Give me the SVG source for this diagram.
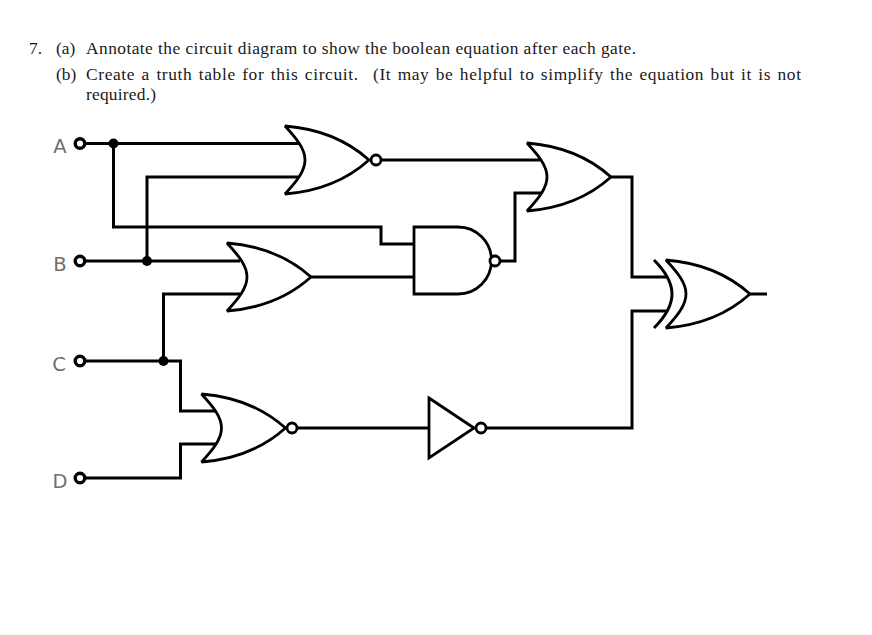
<svg xmlns="http://www.w3.org/2000/svg" width="872" height="635" viewBox="0 0 872 635">
<style>
.t{font-family:"Liberation Serif","Times New Roman",serif;font-size:17.4px;fill:#1a1a1a}
.l{font-family:"DejaVu Sans",sans-serif;font-size:19.500px;fill:#707070;text-anchor:middle}
.w{fill:none;stroke:#000;stroke-width:3;stroke-linejoin:miter}
.g{fill:#fff;stroke:#000;stroke-width:2.8;stroke-linejoin:bevel}
.b{fill:#fff;stroke:#000;stroke-width:2.8}
.d{fill:#000}
.p{fill:#fff;stroke:#000;stroke-width:3.4}
</style>
<defs>
<path id="or" d="M0 0C38 3 64 16 84 34C64 52 38 65 0 68C12 55 20 45 20 34C20 23 12 13 0 0Z"/>
</defs>
<g id="question">
<text class="t" x="29" y="54">7.</text>
<text class="t" x="56" y="54">(a)</text>
<text class="t" x="86" y="54" textLength="550" lengthAdjust="spacing">Annotate the circuit diagram to show the boolean equation after each gate.</text>
<text class="t" x="56" y="80">(b)</text>
<text class="t" x="86" y="80" textLength="272" lengthAdjust="spacing" word-spacing="1.500">Create a truth table for this circuit.</text>
<text class="t" x="373" y="80" textLength="428" lengthAdjust="spacing" word-spacing="1.500">(It may be helpful to simplify the equation but it is not</text>
<text class="t" x="86" y="100" textLength="70" lengthAdjust="spacing">required.)</text>
</g>
<g id="connectors">
<path class="w" d="M85 143.5H300"/>
<path class="w" d="M113.500 143.500V227H381V244H414"/>
<path class="w" d="M85 261H240"/>
<path class="w" d="M147 261V177H300"/>
<path class="w" d="M381 160H542"/>
<path class="w" d="M310 277H414"/>
<path class="w" d="M500 261H515V193H542"/>
<path class="w" d="M611 177H632V277H668"/>
<path class="w" d="M486 428H632V311H668"/>
<path class="w" d="M163.500 361V294H240"/>
<path class="w" d="M85 361H180.500V411H216"/>
<path class="w" d="M85 478H180.500V444H216"/>
<path class="w" d="M297 428H429"/>
<path class="w" d="M750 294H767"/>
</g>
<g id="input-a"><text class="l" x="60" y="153">A</text><circle class="p" cx="80" cy="143.500" r="4.800"/></g>
<g id="input-b"><text class="l" x="60" y="271">B</text><circle class="p" cx="80" cy="261" r="4.800"/></g>
<g id="input-c"><text class="l" x="59" y="371">C</text><circle class="p" cx="80" cy="361" r="4.800"/></g>
<g id="input-d"><text class="l" x="60" y="488">D</text><circle class="p" cx="80" cy="478" r="4.800"/></g>
<g id="junctions">
<circle class="d" cx="113.500" cy="143.500" r="5"/>
<circle class="d" cx="147" cy="261" r="5"/>
<circle class="d" cx="163.500" cy="361" r="5"/>
</g>
<g id="nor-ab"><use href="#or" class="g" x="285" y="126"/><circle class="b" cx="376" cy="160" r="5"/></g>
<g id="or-bc"><use href="#or" class="g" x="227" y="243"/></g>
<g id="nand"><path class="g" d="M414 227H458A33.500 33.500 0 0 1 458 294H414Z" style="stroke-linejoin:miter"/><circle class="b" cx="495" cy="261" r="5"/></g>
<g id="or-top"><use href="#or" class="g" x="527" y="143"/></g>
<g id="nor-cd"><use href="#or" class="g" x="201.500" y="394"/><circle class="b" cx="292" cy="428" r="5"/></g>
<g id="not"><path class="g" d="M429 398L474 428L429 458Z" style="stroke-linejoin:miter"/><circle class="b" cx="481" cy="428" r="5"/></g>
<g id="xor"><use href="#or" class="g" x="666" y="260"/><path class="w" stroke-width="2.800" d="M654 260C667 273 672 283 672 294C672 305 667 315 654 328"/></g>
</svg>
